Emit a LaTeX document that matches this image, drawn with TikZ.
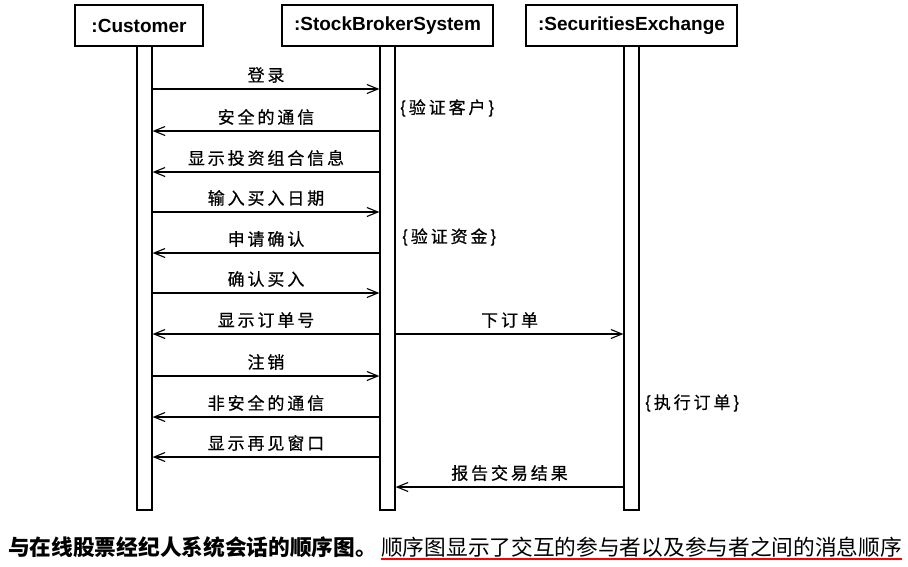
\documentclass[tikz,border=0pt]{standalone}
\usepackage{fontspec}
\setmainfont{Liberation Sans}
\newfontfamily\cjk{Noto Sans CJK SC}
\newfontfamily\cjksp[LetterSpace=17,FakeBold=0.6]{Noto Sans CJK SC}
\usetikzlibrary{arrows.meta}
\begin{document}
\begin{tikzpicture}[x=1pt,y=-1pt,
  head/.style={draw,line width=1.3pt,minimum height=41pt,inner sep=0pt,font=\fontsize{19}{20}\selectfont\bfseries},
  bar/.style={draw,line width=1.3pt,minimum width=15pt,minimum height=464pt,inner sep=0pt},
  msg/.style={line width=1.1pt,-{Straight Barb[length=11pt,width=9pt,line width=1.1pt]}},
  lbl/.style={font=\fontsize{17}{18}\selectfont\cjksp,inner sep=0pt},
  note/.style={font=\fontsize{17}{18}\selectfont\cjksp,inner sep=0pt,anchor=west},
  captext/.style={font=\fontsize{21.7}{24}\selectfont\cjk,inner sep=0pt,anchor=west}]
\useasboundingbox (0,0) rectangle (908,566);
% lifeline heads
\node[head,minimum width=128pt] (cust) at (139,25.5) {:Customer};
\node[head,minimum width=211pt] (sbs) at (387.5,25.5) {:StockBrokerSystem};
\node[head,minimum width=211pt] (sec) at (631.5,25.5) {:SecuritiesExchange};
% activation bars
\node[bar] (cbar) at (144.5,278) {};
\node[bar] (sbar) at (387.5,278) {};
\node[bar] (ebar) at (631.5,278) {};
% messages
\draw[msg] (cbar.east |- 0,89)  -- (sbar.west |- 0,89)  node[midway,yshift=14pt,lbl] {登录};
\draw[msg] (sbar.west |- 0,131) -- (cbar.east |- 0,131) node[midway,yshift=14pt,lbl] {安全的通信};
\draw[msg] (sbar.west |- 0,172) -- (cbar.east |- 0,172) node[midway,yshift=14pt,lbl] {显示投资组合信息};
\draw[msg] (cbar.east |- 0,212) -- (sbar.west |- 0,212) node[midway,yshift=14pt,lbl] {输入买入日期};
\draw[msg] (sbar.west |- 0,253) -- (cbar.east |- 0,253) node[midway,yshift=14pt,lbl] {申请确认};
\draw[msg] (cbar.east |- 0,293) -- (sbar.west |- 0,293) node[midway,yshift=14pt,lbl] {确认买入};
\draw[msg] (sbar.west |- 0,334) -- (cbar.east |- 0,334) node[midway,yshift=14pt,lbl] {显示订单号};
\draw[msg] (sbar.east |- 0,334) -- (ebar.west |- 0,334) node[midway,yshift=14pt,lbl] {下订单};
\draw[msg] (cbar.east |- 0,376) -- (sbar.west |- 0,376) node[midway,yshift=14pt,lbl] {注销};
\draw[msg] (sbar.west |- 0,417) -- (cbar.east |- 0,417) node[midway,yshift=14pt,lbl] {非安全的通信};
\draw[msg] (sbar.west |- 0,457) -- (cbar.east |- 0,457) node[midway,yshift=14pt,lbl] {显示再见窗口};
\draw[msg] (ebar.west |- 0,487) -- (sbar.east |- 0,487) node[midway,yshift=14pt,lbl] {报告交易结果};
% constraints
\node[note] (n1) at (400,108) {\{验证客户\}};
\node[note] (n2) at (402,237) {\{验证资金\}};
\node[note] (n3) at (645,403) {\{执行订单\}};
% caption
\node[captext] (cap1) at (8,547) {\bfseries 与在线股票经纪人系统会话的顺序图。};
\node[captext] (cap2) at (381,547) {顺序图显示了交互的参与者以及参与者之间的消息顺序};
\draw[red,line width=2.5pt] (cap2.west |- 0,559) -- (cap2.east |- 0,559);
\end{tikzpicture}
\end{document}
